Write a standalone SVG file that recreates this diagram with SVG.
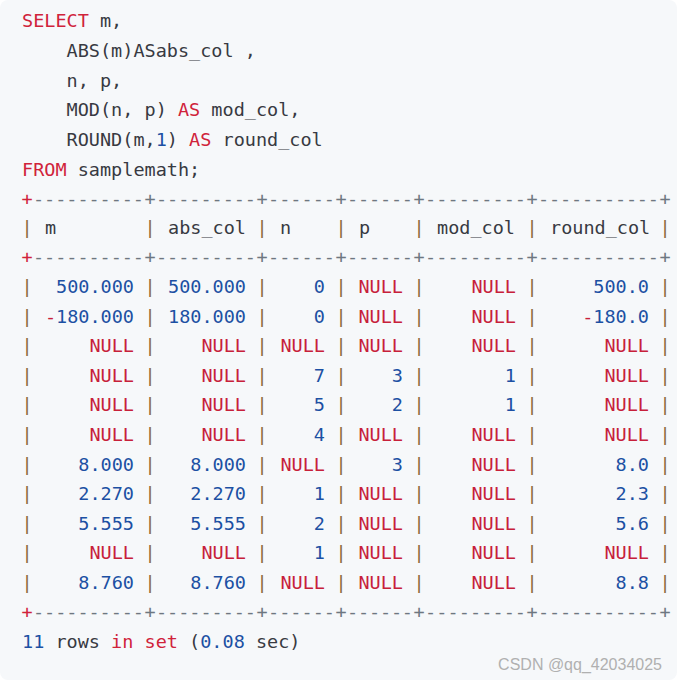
<svg xmlns="http://www.w3.org/2000/svg" width="677" height="687" viewBox="0 0 677 687">
<style>
text{font-family:"DejaVu Sans Mono","Liberation Mono",monospace;font-size:18.5px;fill:#383a42;white-space:pre}
.k{fill:#d0233a}.n{fill:#1c50a3}.u{fill:#c7203a}
.p{fill:#8d6a3c;text-anchor:middle}.d{fill:#6e7781}.pl{fill:#6e7781;text-anchor:middle}
.r{text-anchor:end}
</style>
<rect width="677" height="687" fill="#ffffff"/>
<rect x="0" y="0" width="677" height="680" rx="8" fill="#f6f8fa"/>
<g id="sql">
<text x="22" y="27" xml:space="preserve"><tspan class="k">SELECT</tspan> m,</text>
<text x="22" y="57" xml:space="preserve">    ABS(m)ASabs_col ,</text>
<text x="22" y="87" xml:space="preserve">    n, p,</text>
<text x="22" y="116" xml:space="preserve">    MOD(n, p) <tspan class="k">AS</tspan> mod_col,</text>
<text x="22" y="146" xml:space="preserve">    ROUND(m,<tspan class="n">1</tspan>) <tspan class="k">AS</tspan> round_col</text>
<text x="22" y="176" xml:space="preserve"><tspan class="k">FROM</tspan> samplemath;</text>
</g>
<g id="borders">
<g id="b1">
<text class="pl" x="27" y="205" style="fill:#d0233a">+</text><text class="pl" x="150" y="205">+</text><text class="pl" x="262" y="205">+</text><text class="pl" x="341" y="205">+</text><text class="pl" x="419" y="205">+</text><text class="pl" x="532" y="205">+</text><text class="pl" x="665" y="205">+</text>
<text class="d" x="33" y="205" textLength="111" lengthAdjust="spacing">----------</text>
<text class="d" x="156" y="205" textLength="100" lengthAdjust="spacing">---------</text>
<text class="d" x="268" y="205" textLength="67" lengthAdjust="spacing">------</text>
<text class="d" x="347" y="205" textLength="66" lengthAdjust="spacing">------</text>
<text class="d" x="425" y="205" textLength="101" lengthAdjust="spacing">---------</text>
<text class="d" x="538" y="205" textLength="121" lengthAdjust="spacing">-----------</text>
</g>
<use href="#b1" y="58"/>
<use href="#b1" y="413"/>
</g>
<g id="header">
<text class="p" x="27" y="234">|</text><text class="p" x="150" y="234">|</text><text class="p" x="262" y="234">|</text><text class="p" x="341" y="234">|</text><text class="p" x="419" y="234">|</text><text class="p" x="532" y="234">|</text><text class="p" x="665" y="234">|</text>
<text x="45" y="234">m</text><text x="168" y="234">abs_col</text><text x="280" y="234">n</text><text x="359" y="234">p</text><text x="437" y="234">mod_col</text><text x="550" y="234">round_col</text>
</g>
<defs>
<g id="pipes"><text class="p" x="27" y="0">|</text><text class="p" x="150" y="0">|</text><text class="p" x="262" y="0">|</text><text class="p" x="341" y="0">|</text><text class="p" x="419" y="0">|</text><text class="p" x="532" y="0">|</text><text class="p" x="665" y="0">|</text></g>
</defs>
<g id="rows">
<use href="#pipes" y="293"/><use href="#pipes" y="322.6"/><use href="#pipes" y="352.2"/><use href="#pipes" y="381.8"/><use href="#pipes" y="411.4"/><use href="#pipes" y="441"/><use href="#pipes" y="470.6"/><use href="#pipes" y="500.2"/><use href="#pipes" y="529.8"/><use href="#pipes" y="559.4"/><use href="#pipes" y="589"/>
<g>
<text class="r n" x="134" y="293">500.000</text><text class="r n" x="246" y="293">500.000</text><text class="r n" x="325" y="293">0</text><text class="r u" x="403" y="293">NULL</text><text class="r u" x="516" y="293">NULL</text><text class="r n" x="649" y="293">500.0</text>
<text class="r n" x="134" y="322.6"><tspan class="u">-</tspan>180.000</text><text class="r n" x="246" y="322.6">180.000</text><text class="r n" x="325" y="322.6">0</text><text class="r u" x="403" y="322.6">NULL</text><text class="r u" x="516" y="322.6">NULL</text><text class="r n" x="649" y="322.6"><tspan class="u">-</tspan>180.0</text>
<text class="r u" x="134" y="352.2">NULL</text><text class="r u" x="246" y="352.2">NULL</text><text class="r u" x="325" y="352.2">NULL</text><text class="r u" x="403" y="352.2">NULL</text><text class="r u" x="516" y="352.2">NULL</text><text class="r u" x="649" y="352.2">NULL</text>
<text class="r u" x="134" y="381.8">NULL</text><text class="r u" x="246" y="381.8">NULL</text><text class="r n" x="325" y="381.8">7</text><text class="r n" x="403" y="381.8">3</text><text class="r n" x="516" y="381.8">1</text><text class="r u" x="649" y="381.8">NULL</text>
<text class="r u" x="134" y="411.4">NULL</text><text class="r u" x="246" y="411.4">NULL</text><text class="r n" x="325" y="411.4">5</text><text class="r n" x="403" y="411.4">2</text><text class="r n" x="516" y="411.4">1</text><text class="r u" x="649" y="411.4">NULL</text>
<text class="r u" x="134" y="441">NULL</text><text class="r u" x="246" y="441">NULL</text><text class="r n" x="325" y="441">4</text><text class="r u" x="403" y="441">NULL</text><text class="r u" x="516" y="441">NULL</text><text class="r u" x="649" y="441">NULL</text>
<text class="r n" x="134" y="470.6">8.000</text><text class="r n" x="246" y="470.6">8.000</text><text class="r u" x="325" y="470.6">NULL</text><text class="r n" x="403" y="470.6">3</text><text class="r u" x="516" y="470.6">NULL</text><text class="r n" x="649" y="470.6">8.0</text>
<text class="r n" x="134" y="500.2">2.270</text><text class="r n" x="246" y="500.2">2.270</text><text class="r n" x="325" y="500.2">1</text><text class="r u" x="403" y="500.2">NULL</text><text class="r u" x="516" y="500.2">NULL</text><text class="r n" x="649" y="500.2">2.3</text>
<text class="r n" x="134" y="529.8">5.555</text><text class="r n" x="246" y="529.8">5.555</text><text class="r n" x="325" y="529.8">2</text><text class="r u" x="403" y="529.8">NULL</text><text class="r u" x="516" y="529.8">NULL</text><text class="r n" x="649" y="529.8">5.6</text>
<text class="r u" x="134" y="559.4">NULL</text><text class="r u" x="246" y="559.4">NULL</text><text class="r n" x="325" y="559.4">1</text><text class="r u" x="403" y="559.4">NULL</text><text class="r u" x="516" y="559.4">NULL</text><text class="r u" x="649" y="559.4">NULL</text>
<text class="r n" x="134" y="589">8.760</text><text class="r n" x="246" y="589">8.760</text><text class="r u" x="325" y="589">NULL</text><text class="r u" x="403" y="589">NULL</text><text class="r u" x="516" y="589">NULL</text><text class="r n" x="649" y="589">8.8</text>
</g>
</g>
<g id="footer">
<text x="22" y="648" xml:space="preserve"><tspan class="n">11</tspan> rows <tspan class="k">in</tspan> <tspan class="k">set</tspan> (<tspan class="n">0.08</tspan> sec)</text>
<text x="662" y="670" style="font-family:'Liberation Sans',Arial,sans-serif;font-size:16px;fill:#b0b0b0;text-anchor:end">CSDN @qq_42034025</text>
</g>
</svg>
